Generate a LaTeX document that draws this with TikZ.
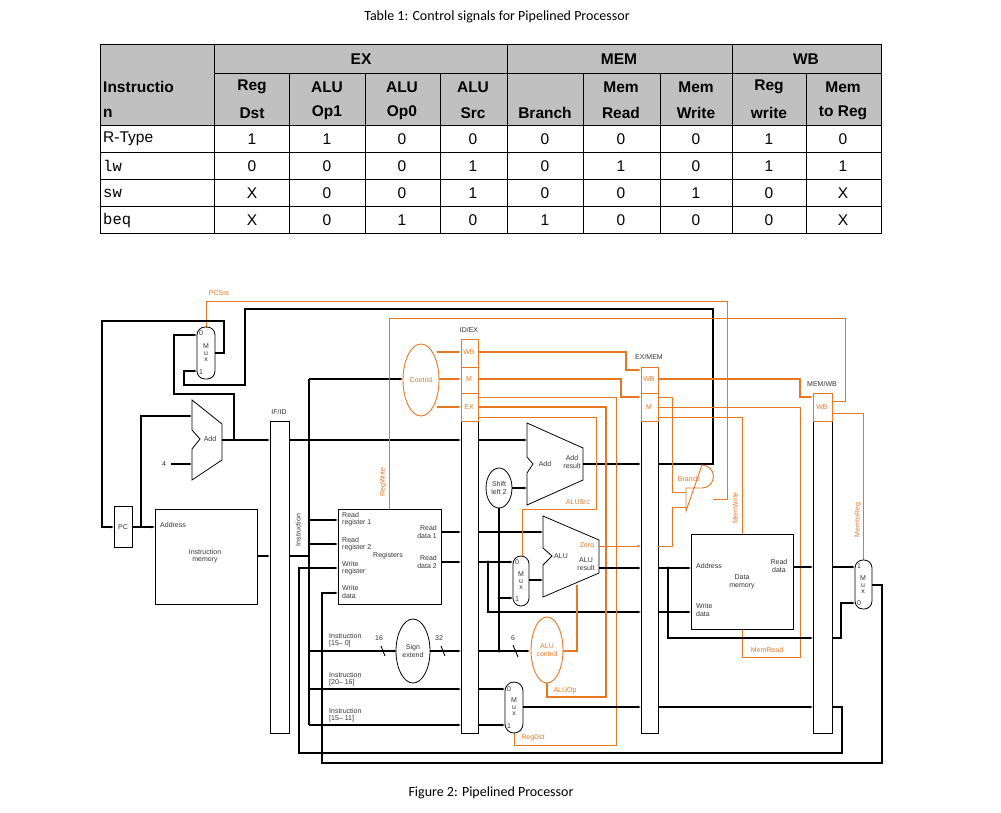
\documentclass[tikz,border=0pt]{standalone}
\usepackage{fontspec}
\setmainfont{Liberation Sans}
\newfontfamily\calfam{Carlito}
\newfontfamily\cour{Liberation Mono}
\usetikzlibrary{arrows.meta}
\definecolor{org}{HTML}{E87722}
\definecolor{hdr}{HTML}{C0C0C0}
\definecolor{lbl}{HTML}{333333}
\begin{document}
\begin{tikzpicture}[x=1pt,y=-1pt,
 >={Latex[length=3.5pt,width=3pt]},
 bk/.style={line width=1.8pt,black},
 tk/.style={line width=0.9pt,black},
 ok/.style={line width=2pt,org},
 ot/.style={line width=1pt,org},
 box/.style={draw,line width=0.8pt},
 sm/.style={font=\fontsize{7}{7.5}\selectfont,text=lbl,inner sep=0pt,align=center},
 so/.style={sm,text=org},
 th/.style={font=\fontsize{15.5}{19}\selectfont\bfseries,align=center,inner sep=0pt},
 td/.style={font=\fontsize{15.5}{19}\selectfont,inner sep=0pt},
 tc/.style={font=\fontsize{15.5}{19}\selectfont\cour,inner sep=0pt}]
\useasboundingbox (0,0) rectangle (1001,812);
% ---------- table ----------
\node[font=\calfam\fontsize{14}{16}\selectfont] (cap1) at (497,17) {Table 1: Control signals for Pipelined Processor};
\fill[hdr] (100,44) rectangle (881,125);
\draw[line width=1pt] (100,44) rectangle (881,233);
\foreach \y in {125,152,179,206} \draw[line width=1pt] (100,\y) -- (881,\y);
\draw[line width=1pt] (214,73) -- (881,73);
\foreach \x in {214,507,732} \draw[line width=1pt] (\x,44) -- (\x,233);
\foreach \x in {289,365,440,583,660,806} \draw[line width=1pt] (\x,73) -- (\x,233);
\node[th] (hex) at (361,59) {EX};
\node[th] (hmem) at (619,59) {MEM};
\node[th] (hwb) at (806,59) {WB};
\node[th,anchor=west] (hi1) at (103,87) {Instructio};
\node[th,anchor=west] (hi2) at (103,113) {n};
\foreach \x/\a/\b in {252/Reg/Dst,327/ALU/Op1,402/ALU/Op0,473/ALU/Src,621/Mem/Read,696/Mem/Write,769/Reg/write,843/Mem/to Reg}{
 \node[th] at (\x,87) {\a}; \node[th] at (\x,113) {\b};}
\node[th] (hbr) at (545,113) {Branch};
\node[td,anchor=west] (r1) at (103,139) {R-Type};
\node[tc,anchor=west] (r2) at (103,166) {lw};
\node[tc,anchor=west] (r3) at (103,193) {sw};
\node[tc,anchor=west] (r4) at (103,220) {beq};
\foreach \y/\vals in {139/{1,1,0,0,0,0,0,1,0},166/{0,0,0,1,0,1,0,1,1},193/{X,0,0,1,0,0,1,0,X},220/{X,0,1,0,1,0,0,0,X}}{
 \foreach \v [count=\i] in \vals {
  \pgfmathsetmacro\xx{{0,252,327,402,473,545,621,696,769,843}[\i]}
  \node[td] at (\xx,\y) {\v};}}
% ---------- figure ----------
% PCSrc
\node[so] (pcsrc) at (219,293) {PCSrc};
\draw[ot] (206,328) -- (206,301) -- (727,301) -- (727,499) -- (713,499);
% branch target return
\draw[bk,->] (658,464) -- (713,464) -- (713,309) -- (245,309) -- (245,385) -- (184,385) -- (184,371) -- (197,371);
% PC mux
\draw[box,rounded corners=8] (197,327) rectangle (215,379);
\node[sm,anchor=west] at (199,333) {0};
\node[sm] (pcm) at (206,353) {M\\[-1pt]u\\[-1pt]x};
\node[sm,anchor=west] at (199,372) {1};
\draw[bk,->] (215,353) -- (224,353) -- (224,321) -- (102,321) -- (102,527) -- (114,527);
\draw[bk,->] (234,440) -- (234,394) -- (174,394) -- (174,335) -- (197,335);
% PC and adder
\draw[box] (114,506) rectangle (132,547); \node[sm] (pc) at (123,527) {PC};
\draw[box] (192,400) -- (222,424) -- (222,460) -- (192,480) -- (192,449) -- (200,439) -- (192,430) -- cycle;
\node[sm] (add1) at (210,439) {Add};
\draw[bk,->] (141,527) -- (141,416) -- (192,416);
\draw[bk,->] (132,527) -- (155,527);
\node[sm] (four) at (164,464) {4};
\draw[bk,->] (171,464) -- (192,464);
% instruction memory
\draw[box] (155,509) rectangle (257,604);
\node[sm,anchor=west] at (160,525) {Address};
\node[sm] (imem) at (205,556) {Instruction\\memory};
\draw[bk,->] (257,556) -- (270,556);
% pipeline registers
\draw[box] (270,421) rectangle (289,733); \node[sm] (ifid) at (279,412) {IF/ID};
\draw[box] (461,421) rectangle (478,733); \node[sm] (idex) at (469,330) {ID/EX};
\draw[box] (641,421) rectangle (658,733); \node[sm] (exmem) at (649,357) {EX/MEM};
\draw[box] (813,421) rectangle (832,733); \node[sm] (memwb) at (822,384) {MEM/WB};
\draw[ot] (461,339) rectangle (478,421); \draw[ot] (461,367) -- (478,367); \draw[ot] (461,393) -- (478,393);
\node[so] at (469,352) {WB}; \node[so] at (469,379) {M}; \node[so] at (469,407) {EX};
\draw[ot] (641,367) rectangle (658,421); \draw[ot] (641,393) -- (658,393);
\node[so] at (649,379) {WB}; \node[so] at (649,407) {M};
\draw[ot] (813,393) rectangle (832,421);
\node[so] at (822,407) {WB};
% PC+4 path
\draw[bk,->] (222,440) -- (270,440);
\draw[bk,->] (289,440) -- (461,440);
\draw[bk,->] (478,440) -- (527,440);
% instruction bus
\node[sm,rotate=90] (instr) at (298,530) {Instruction};
\draw[bk] (289,556) -- (309,556);
\draw[bk] (309,379) -- (309,725);
\draw[bk,->] (309,379) -- (403,379);
% control
\draw[org,line width=0.9pt] (421,380) ellipse (18 and 36);
\node[so] (ctrl) at (421,380) {Control};
\draw[ok,->] (437,352) -- (461,352);
\draw[ok,->] (439,379) -- (461,379);
\draw[ok,->] (437,407) -- (461,407);
% RegWrite
\draw[ot] (389,509) -- (389,318) -- (845,318) -- (845,401) -- (832,401);
\node[so,rotate=90] (rw) at (383,482) {RegWrite};
% register file
\draw[box] (338,509) rectangle (441,604);
\node[sm,align=left,anchor=west] at (342,519) {Read\\register 1};
\node[sm,align=left,anchor=west] at (342,544) {Read\\register 2};
\node[sm,align=left,anchor=west] at (342,568) {Write\\register};
\node[sm,align=left,anchor=west] at (342,592) {Write\\data};
\node[sm] (regs) at (388,556) {Registers};
\node[sm,align=right,anchor=east] at (437,532) {Read\\data 1};
\node[sm,align=right,anchor=east] at (437,562) {Read\\data 2};
\draw[bk,->] (309,520) -- (338,520);
\draw[bk,->] (309,544) -- (338,544);
\draw[bk,->] (441,532) -- (461,532);
\draw[bk,->] (441,562) -- (461,562);
% sign extend and instruction fields
\draw[bk,->] (309,651) -- (397,651);
\node[sm,align=left,anchor=west] at (329,640) {Instruction\\{[15-- 0]}};
\node[sm] at (379,638) {16}; \draw[tk] (381,646) -- (385,656);
\draw[line width=0.8pt] (413,651) ellipse (17 and 32);
\node[sm] (sext) at (413,651) {Sign\\extend};
\node[sm] at (439,638) {32}; \draw[tk] (441,646) -- (445,656);
\draw[bk,->] (430,651) -- (461,651);
\draw[bk,->] (309,689) -- (461,689);
\node[sm,align=left,anchor=west] at (329,679) {Instruction\\{[20-- 16]}};
\draw[bk,->] (309,725) -- (461,725);
\node[sm,align=left,anchor=west] at (329,715) {Instruction\\{[15-- 11]}};
% EX stage
\draw[box] (527,423) -- (583,448) -- (583,480) -- (527,505) -- (527,473) -- (533,464) -- (527,457) -- cycle;
\node[sm] (add2) at (545,464) {Add};
\node[sm] at (572,462) {Add\\result};
\draw[bk,->] (583,464) -- (641,464);
\draw[line width=0.8pt] (499,488) ellipse (13 and 20);
\node[sm] (sl2) at (499,488) {Shift\\left 2};
\draw[bk,->] (512,488) -- (527,488);
\draw[bk] (499,508) -- (499,651);
\draw[bk,->] (478,651) -- (530,651);
\node[sm] at (513,638) {6}; \draw[tk] (513,645) -- (518,657);
% ALU
\draw[box] (543,516) -- (599,540) -- (599,573) -- (543,597) -- (543,565) -- (552,556) -- (543,548) -- cycle;
\node[sm] (alu) at (561,556) {ALU};
\node[so] at (587,545) {Zero};
\node[sm] at (586,564) {ALU\\result};
\draw[bk,->] (478,532) -- (543,532);
\draw[box,rounded corners=8] (513,556) rectangle (529,606);
\node[sm,anchor=west] at (515,562) {0};
\node[sm] at (521,581) {M\\[-1pt]u\\[-1pt]x};
\node[sm,anchor=west] at (515,599) {1};
\draw[bk,->] (529,580) -- (543,580);
\draw[bk,->] (478,562) -- (513,562);
\draw[bk,->] (488,562) -- (488,612) -- (641,612);
\draw[bk,->] (499,598) -- (513,598);
\fill (488,562) circle (1.6); \fill (499,598) circle (1.6); \fill (499,651) circle (1.6);
\draw[ot] (522,556) -- (522,509) -- (596,509) -- (596,417) -- (478,417);
\node[so] (alusrc) at (578,502) {ALUSrc};
\draw[ot] (478,397) -- (616,397) -- (616,745) -- (514,745) -- (514,733);
\node[so] (regdst) at (533,738) {RegDst};
\draw[org,line width=0.9pt] (547,650) ellipse (16 and 33);
\node[so] (aluc) at (547,650) {ALU\\control};
\draw[ok] (563,651) -- (577,651) -- (577,585);
\draw[ok] (478,407) -- (606,407) -- (606,697) -- (547,697) -- (547,683);
\node[so] (aluop) at (565,691) {ALUOp};
\draw[ot,->] (599,546) -- (641,546);
\draw[bk,->] (599,568) -- (641,568);
% RegDst mux
\draw[box,rounded corners=9] (505,682) rectangle (523,733);
\node[sm,anchor=west] at (507,689) {0};
\node[sm] at (514,707) {M\\[-1pt]u\\[-1pt]x};
\node[sm,anchor=west] at (507,726) {1};
\draw[bk,->] (478,689) -- (505,689);
\draw[bk,->] (478,725) -- (505,725);
\draw[bk,->] (523,707) -- (641,707);
\draw[bk,->] (658,707) -- (813,707);
\draw[bk,->] (832,707) -- (842,707) -- (842,753) -- (299,753) -- (299,568) -- (338,568);
% control pipeline
\draw[ok,->] (478,352) -- (626,352) -- (626,370) -- (641,370);
\draw[ok,->] (478,379) -- (621,379) -- (621,397) -- (641,397);
\draw[ok,->] (658,379) -- (800,379) -- (800,397) -- (813,397);
\draw[ot] (832,413) -- (863,413) -- (863,560);
\node[so,rotate=90] (m2r) at (858,520) {MemtoReg};
% MEM stage
\draw[ot] (658,397) -- (672,397) -- (672,492) -- (686,492);
\node[so] (branch) at (689,479) {Branch};
\draw[org,line width=0.9pt] (686,488) -- (702,488) arc (90:-90:11.5) -- (686,511) -- cycle;
\draw[ot] (686,507) -- (672,507) -- (672,546) -- (658,546);
\draw[ot] (658,407) -- (800,407) -- (800,657) -- (742,657) -- (742,629);
\node[so] (memread) at (767,650) {MemRead};
\draw[ot] (658,417) -- (742,417) -- (742,534);
\node[so,rotate=90] (mw) at (735,508) {MemWrite};
\draw[box] (691,534) rectangle (793,629);
\node[sm,anchor=west] at (696,566) {Address};
\node[sm] (dmem) at (742,582) {Data\\memory};
\node[sm] at (779,566) {Read\\data};
\node[sm,align=left,anchor=west] at (696,610) {Write\\data};
\draw[bk,->] (658,568) -- (691,568);
\draw[bk,->] (658,612) -- (691,612);
\draw[bk,->] (668,568) -- (668,638) -- (813,638);
\fill (668,568) circle (1.6);
\draw[bk,->] (793,567) -- (813,567);
\draw[bk,->] (832,567) -- (855,567);
\draw[bk,->] (832,638) -- (841,638) -- (841,603) -- (855,603);
% MemtoReg mux
\draw[box,rounded corners=8] (855,560) rectangle (872,609);
\node[sm,anchor=west] at (857,566) {1};
\node[sm] at (863,585) {M\\[-1pt]u\\[-1pt]x};
\node[sm,anchor=west] at (857,603) {0};
\draw[bk,->] (872,585) -- (882,585) -- (882,763) -- (322,763) -- (322,593) -- (338,593);
\node[font=\calfam\fontsize{14}{16}\selectfont] (cap2) at (491,793) {Figure 2: Pipelined Processor};
\end{tikzpicture}
\end{document}
